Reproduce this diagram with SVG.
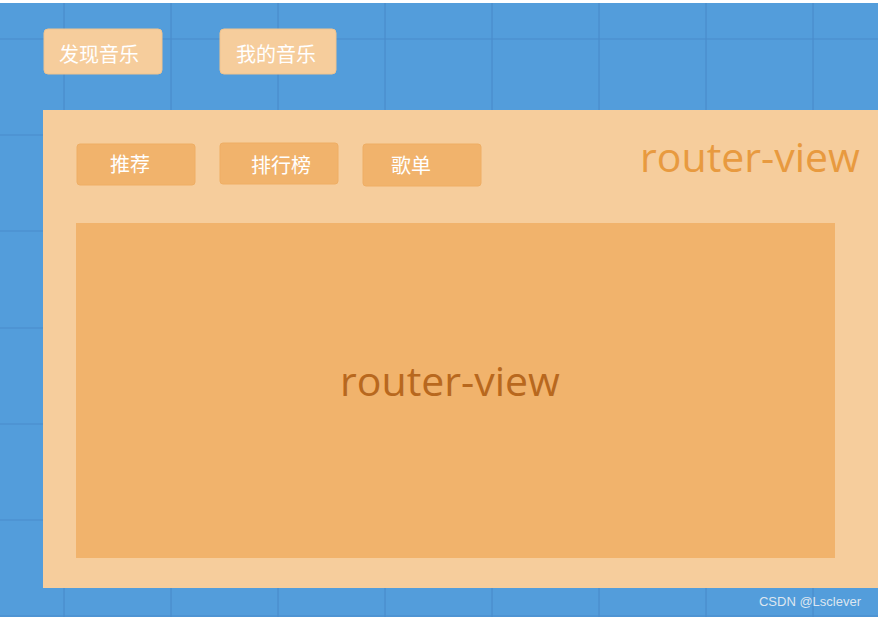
<svg xmlns="http://www.w3.org/2000/svg" width="878" height="617" viewBox="0 0 878 617">
<style>
.grid{stroke:#4a8ccb;stroke-width:1.2}
.btn1{fill:#f6cd9c;stroke:#f0c48f;stroke-width:1}
.btn2{fill:#f1b36c;stroke:#efae64;stroke-width:1}
.cn{font-family:"Microsoft YaHei","Noto Sans CJK SC",sans-serif;font-size:20px;fill:#ffffff;text-anchor:middle}
.rv{font-family:"Open Sans","Noto Sans",sans-serif;font-size:41px;text-anchor:middle}
</style>
<rect x="0" y="0" width="878" height="617" fill="#ffffff"/>
<rect x="0" y="3" width="878" height="614" fill="#539ddb"/>
<g id="grid">
<line class="grid" x1="64" y1="3" x2="64" y2="617"/>
<line class="grid" x1="171" y1="3" x2="171" y2="617"/>
<line class="grid" x1="278" y1="3" x2="278" y2="617"/>
<line class="grid" x1="385" y1="3" x2="385" y2="617"/>
<line class="grid" x1="492" y1="3" x2="492" y2="617"/>
<line class="grid" x1="599" y1="3" x2="599" y2="617"/>
<line class="grid" x1="706" y1="3" x2="706" y2="617"/>
<line class="grid" x1="813" y1="3" x2="813" y2="617"/>
<line class="grid" x1="0" y1="39" x2="878" y2="39"/>
<line class="grid" x1="0" y1="135" x2="878" y2="135"/>
<line class="grid" x1="0" y1="231" x2="878" y2="231"/>
<line class="grid" x1="0" y1="328" x2="878" y2="328"/>
<line class="grid" x1="0" y1="424" x2="878" y2="424"/>
<line class="grid" x1="0" y1="520" x2="878" y2="520"/>
<line class="grid" x1="0" y1="616" x2="878" y2="616"/>
</g>
<g id="nav-faxian">
<rect class="btn1" x="44" y="29" width="118" height="45" rx="4"/>
<text class="cn" x="99" y="62">发现音乐</text>
</g>
<g id="nav-wode">
<rect class="btn1" x="220" y="29" width="116" height="45" rx="4"/>
<text class="cn" x="276" y="62">我的音乐</text>
</g>
<g id="router-view-outer">
<rect x="43" y="110" width="835" height="478" fill="#f6cd9c"/>
<text class="rv" x="750" y="172" fill="#e89a3f">router-view</text>
</g>
<g id="tab-tuijian">
<rect class="btn2" x="77" y="144" width="118" height="41" rx="3"/>
<text class="cn" x="130" y="172">推荐</text>
</g>
<g id="tab-paihang">
<rect class="btn2" x="220" y="143" width="118" height="41" rx="3"/>
<text class="cn" x="281" y="173">排行榜</text>
</g>
<g id="tab-gedan">
<rect class="btn2" x="363" y="144" width="118" height="42" rx="3"/>
<text class="cn" x="411" y="173">歌单</text>
</g>
<g id="router-view-inner">
<rect x="76" y="223" width="759" height="335" fill="#f1b36c"/>
<text class="rv" x="450" y="396" fill="#b8681e">router-view</text>
</g>
<g id="connectors"></g>
<text x="861" y="606" font-family="Liberation Sans, Arial, sans-serif" font-size="13" fill="#dde6f0" text-anchor="end">CSDN @Lsclever</text>
</svg>
